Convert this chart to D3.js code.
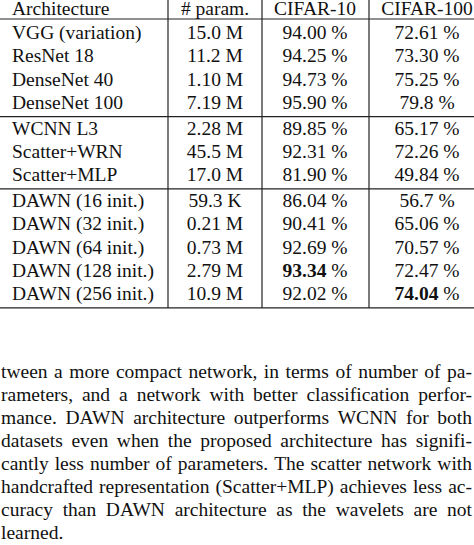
<!DOCTYPE html>
<html><head><meta charset="utf-8">
<script src="https://cdn.jsdelivr.net/npm/d3@7.9.0/dist/d3.min.js"></script>
<style>body{margin:0;background:#fff}svg{display:block}text{font-family:"Liberation Serif",serif;fill:#111}</style>
</head><body>
<svg id="page" width="474" height="545"></svg>
<script>
const headers = ['Architecture', '# param.', 'CIFAR-10', 'CIFAR-100'];
const groups = [
  ['VGG (variation)', 'ResNet 18', 'DenseNet 40', 'DenseNet 100'],
  ['WCNN L3', 'Scatter+WRN', 'Scatter+MLP'],
  ['DAWN (16 init.)', 'DAWN (32 init.)', 'DAWN (64 init.)', 'DAWN (128 init.)', 'DAWN (256 init.)']
];
const params = ['15.0 M', '11.2 M', '1.10 M', '7.19 M', '2.28 M', '45.5 M', '17.0 M',
  '59.3 K', '0.21 M', '0.73 M', '2.79 M', '10.9 M'];
const cifar10 = ['94.00', '94.25', '94.73', '95.90', '89.85', '92.31', '81.90',
  '86.04', '90.41', '92.69', '93.34', '92.02'];
const cifar100 = ['72.61', '73.30', '75.25', '79.8', '65.17', '72.26', '49.84',
  '56.7', '65.06', '70.57', '72.47', '74.04'];
const bold10 = '93.34', bold100 = '74.04';
const paragraph = [
  'tween a more compact network, in terms of number of pa-',
  'rameters, and a network with better classification perfor-',
  'mance.  DAWN architecture outperforms WCNN for both',
  'datasets even when the proposed architecture has signifi-',
  'cantly less number of parameters. The scatter network with',
  'handcrafted representation (Scatter+MLP) achieves less ac-',
  'curacy than DAWN architecture as the wavelets are not',
  'learned.'
];

const svg = d3.select('#page');
const fs = 19.5;
const font = 'Liberation Serif';
const rowH = 23.4;

const rows = [];
let y = 39;
const rules = [19];
groups.forEach(g => {
  g.forEach(name => { rows.push({ name, y }); y += rowH; });
  rules.push(y - rowH + 7.5);
  y += 2;
});

const colX = d3.scaleOrdinal().domain([0, 1, 2, 3]).range([12, 215, 315, 427]);
const anchors = ['start', 'middle', 'middle', 'middle'];
const dividers = [168, 262, 369];

svg.selectAll('text.hdr').data(headers).join('text')
  .attr('class', 'hdr')
  .attr('x', (d, i) => colX(i)).attr('y', 15)
  .attr('text-anchor', (d, i) => anchors[i])
  .attr('font-family', font)
  .attr('font-size', fs).text(d => d);

rows.forEach((r, i) => {
  const cells = [r.name, params[i], cifar10[i], cifar100[i]];
  cells.forEach((c, ci) => {
    const t = svg.append('text')
      .attr('x', colX(ci)).attr('y', r.y)
      .attr('text-anchor', anchors[ci])
      .attr('font-family', font)
      .attr('font-size', fs);
    if (ci < 2) { t.text(c); return; }
    const isBold = (ci === 2 && c === bold10) || (ci === 3 && c === bold100);
    t.append('tspan').attr('font-weight', isBold ? 'bold' : null).text(c);
    t.append('tspan').text(' %');
  });
});

svg.selectAll('line.rule').data(rules).join('line')
  .attr('class', 'rule')
  .attr('x1', 0).attr('x2', 474)
  .attr('y1', d => d).attr('y2', d => d)
  .attr('stroke', '#222').attr('stroke-width', 1.2);

const bottom = rules[rules.length - 1];
svg.selectAll('line.div').data(dividers).join('line')
  .attr('class', 'div')
  .attr('x1', d => d).attr('x2', d => d)
  .attr('y1', 0).attr('y2', bottom)
  .attr('stroke', '#222').attr('stroke-width', 1.2);

// justified paragraph: spread words across the full width
const parW = 471;
paragraph.forEach((line, i) => {
  const ly = 378 + i * 23;
  const words = line.split(/\s+/);
  const last = i === paragraph.length - 1;
  const tmp = svg.append('text').attr('font-family', font).attr('font-size', fs);
  const widths = words.map(w => { tmp.text(w); return tmp.node().getComputedTextLength(); });
  tmp.remove();
  const total = d3.sum(widths);
  const gap = last ? fs * 0.25 : (parW - total) / (words.length - 1);
  let x = 1;
  words.forEach((w, wi) => {
    svg.append('text').attr('class', 'par')
      .attr('x', x).attr('y', ly)
      .attr('font-family', font).attr('font-size', fs)
      .text(w);
    x += widths[wi] + gap;
  });
});
</script>
</body></html>
